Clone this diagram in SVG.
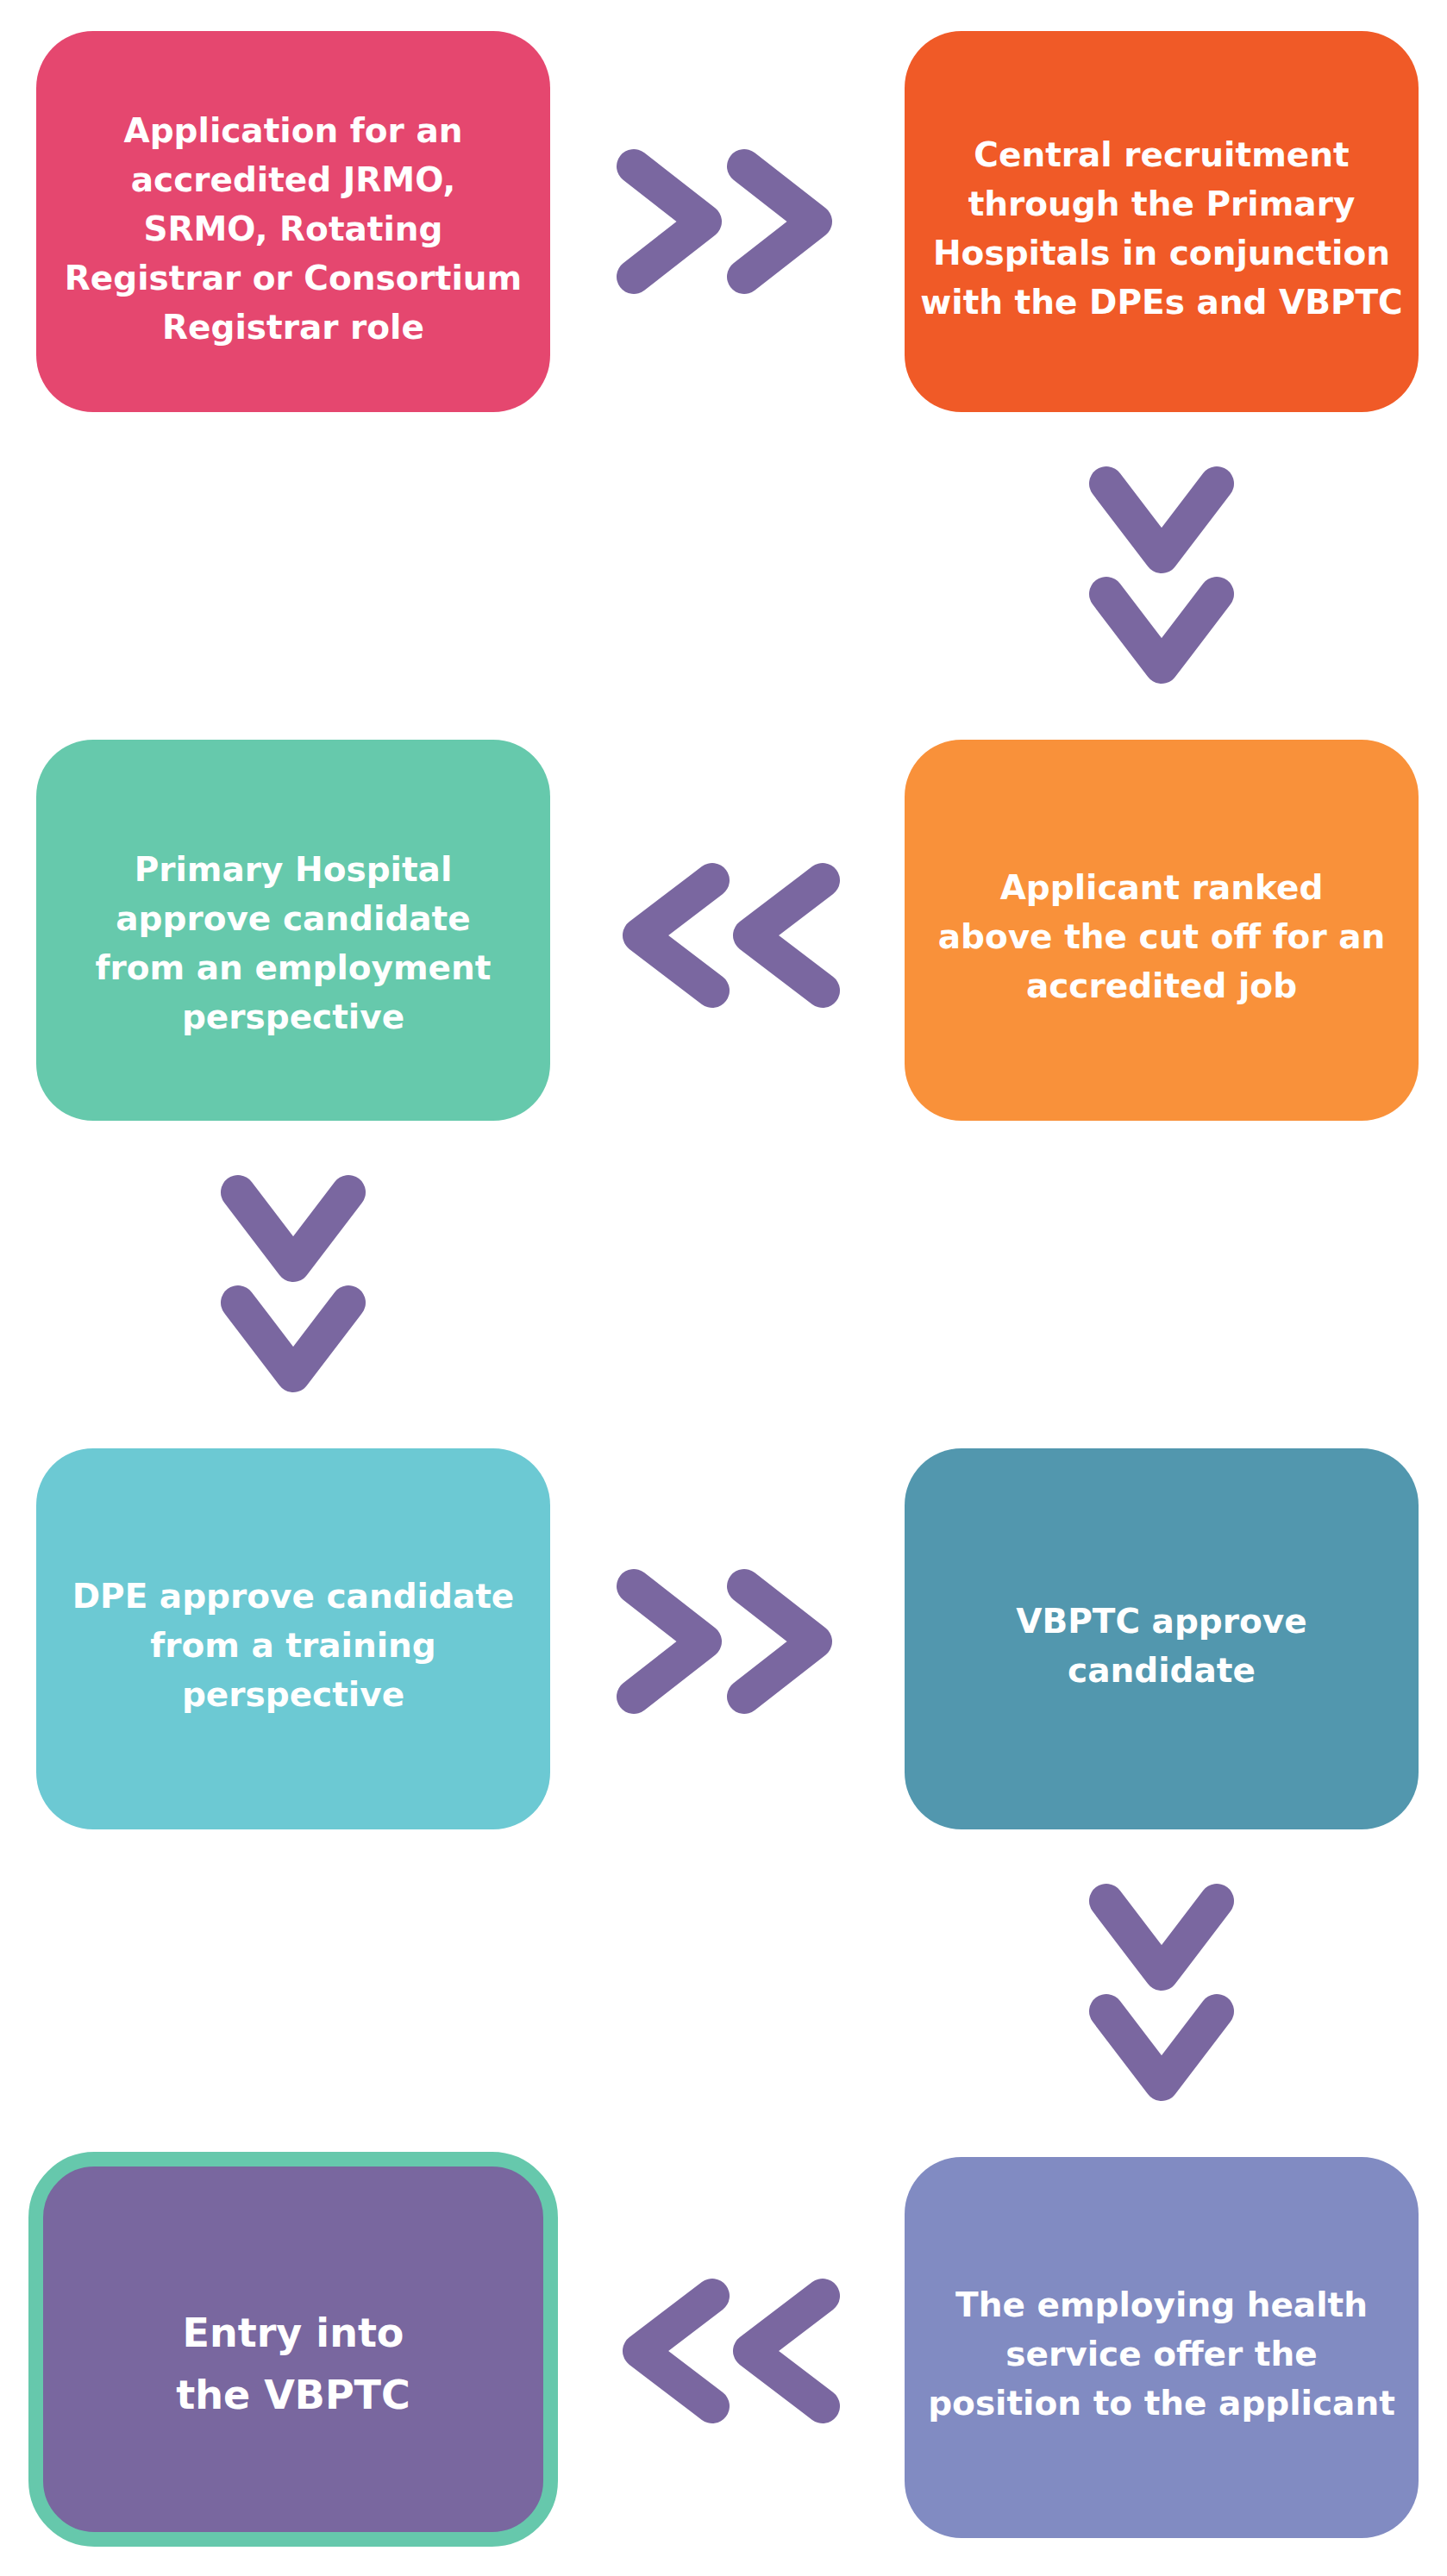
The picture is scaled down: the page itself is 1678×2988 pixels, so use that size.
<svg xmlns="http://www.w3.org/2000/svg" width="1678" height="2988" viewBox="0 0 1678 2988">
<style>
.t{font-family:"DejaVu Sans","Liberation Sans",sans-serif;font-weight:bold;font-size:39px;fill:#ffffff;text-anchor:middle}
.big{font-size:46px}
.chev{fill:none;stroke:#7A67A0;stroke-width:40;stroke-linecap:round;stroke-linejoin:round}
</style>
<rect width="1678" height="2988" fill="#ffffff"/>
<g id="connectors">
<path class="chev" d="M735,193 L817,257 L735,321 M863,193 L945,257 L863,321"/>
<path class="chev" d="M1283,561 L1347,645 L1411,561 M1283,689 L1347,773 L1411,689"/>
<path class="chev" d="M826,1021 L742,1085 L826,1149 M954,1021 L870,1085 L954,1149"/>
<path class="chev" d="M276,1383 L340,1467 L404,1383 M276,1511 L340,1595 L404,1511"/>
<path class="chev" d="M735,1840 L817,1904 L735,1968 M863,1840 L945,1904 L863,1968"/>
<path class="chev" d="M1283,2205 L1347,2289 L1411,2205 M1283,2333 L1347,2417 L1411,2333"/>
<path class="chev" d="M826,2663 L742,2727 L826,2791 M954,2663 L870,2727 L954,2791"/>
</g>
<g id="n1">
<rect x="42" y="36" width="596" height="442" rx="66" fill="#E5476F"/>
<text class="t" x="340" y="165">Application for an</text>
<text class="t" x="340" y="222">accredited JRMO,</text>
<text class="t" x="340" y="279">SRMO, Rotating</text>
<text class="t" x="340" y="336">Registrar or Consortium</text>
<text class="t" x="340" y="393">Registrar role</text>
</g>
<g id="n2">
<rect x="1049" y="36" width="596" height="442" rx="66" fill="#F05A27"/>
<text class="t" x="1347" y="193">Central recruitment</text>
<text class="t" x="1347" y="250">through the Primary</text>
<text class="t" x="1347" y="307">Hospitals in conjunction</text>
<text class="t" x="1347" y="364">with the DPEs and VBPTC</text>
</g>
<g id="n3">
<rect x="42" y="858" width="596" height="442" rx="66" fill="#66C9AC"/>
<text class="t" x="340" y="1022">Primary Hospital</text>
<text class="t" x="340" y="1079">approve candidate</text>
<text class="t" x="340" y="1136">from an employment</text>
<text class="t" x="340" y="1193">perspective</text>
</g>
<g id="n4">
<rect x="1049" y="858" width="596" height="442" rx="66" fill="#F9913A"/>
<text class="t" x="1347" y="1043">Applicant ranked</text>
<text class="t" x="1347" y="1100">above the cut off for an</text>
<text class="t" x="1347" y="1157">accredited job</text>
</g>
<g id="n5">
<rect x="42" y="1680" width="596" height="442" rx="66" fill="#6CC9D3"/>
<text class="t" x="340" y="1865">DPE approve candidate</text>
<text class="t" x="340" y="1922">from a training</text>
<text class="t" x="340" y="1979">perspective</text>
</g>
<g id="n6">
<rect x="1049" y="1680" width="596" height="442" rx="66" fill="#5297AE"/>
<text class="t" x="1347" y="1894">VBPTC approve</text>
<text class="t" x="1347" y="1951">candidate</text>
</g>
<g id="n7">
<rect x="41.5" y="2504.5" width="597" height="441" rx="68" fill="#79679F" stroke="#66C8AC" stroke-width="17"/>
<text class="t big" x="340" y="2722">Entry into</text>
<text class="t big" x="340" y="2794">the VBPTC</text>
</g>
<g id="n8">
<rect x="1049" y="2502" width="596" height="442" rx="66" fill="#818BC2"/>
<text class="t" x="1347" y="2687">The employing health</text>
<text class="t" x="1347" y="2744">service offer the</text>
<text class="t" x="1347" y="2801">position to the applicant</text>
</g>
</svg>
